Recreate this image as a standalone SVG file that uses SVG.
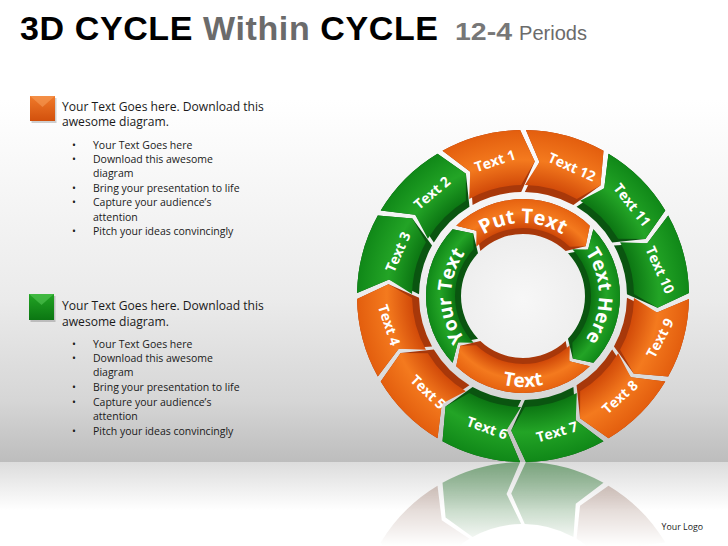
<svg xmlns="http://www.w3.org/2000/svg" width="728" height="546" viewBox="0 0 728 546">
<defs>
<style>
.head{font-family:"Open Sans","Noto Sans",sans-serif;font-size:12.1px;fill:#1a1a1a}
.bul{font-family:"Open Sans","Noto Sans",sans-serif;font-size:10.5px;fill:#1a1a1a}
.lbl{font-family:"Open Sans","Noto Sans",sans-serif;font-weight:bold;font-size:14px;fill:#ffffff;text-anchor:middle}
.big{font-family:"Open Sans","Noto Sans",sans-serif;font-weight:bold;fill:#ffffff;text-anchor:middle}
.ob{fill:#a8380a}
.of{fill:url(#gOF)}
.gb{fill:#0a5510}
.gf{fill:url(#gGF)}
.iob{fill:#a8380a}
.iof{fill:url(#gOI)}
.igb{fill:#0a5510}
.igf{fill:url(#gGI)}
.ro{fill:#a88a7e}
.rg{fill:#4d8a52}
</style>
<linearGradient id="bg" x1="0" y1="100" x2="0" y2="462" gradientUnits="userSpaceOnUse">
<stop offset="0" stop-color="#ffffff"/>
<stop offset="0.55" stop-color="#ebebeb"/>
<stop offset="0.83" stop-color="#d6d6d6"/>
<stop offset="1" stop-color="#bdbdbd"/>
</linearGradient>
<linearGradient id="floor" x1="0" y1="462" x2="0" y2="510" gradientUnits="userSpaceOnUse">
<stop offset="0" stop-color="#dcdcdc"/>
<stop offset="1" stop-color="#ffffff"/>
</linearGradient>
<radialGradient id="gOF" cx="523" cy="296" r="166" gradientUnits="userSpaceOnUse">
<stop offset="0.66" stop-color="#d04808"/>
<stop offset="0.82" stop-color="#f47a1e"/>
<stop offset="1" stop-color="#e35e0e"/>
</radialGradient>
<radialGradient id="gGF" cx="523" cy="296" r="166" gradientUnits="userSpaceOnUse">
<stop offset="0.66" stop-color="#0b7412"/>
<stop offset="0.82" stop-color="#23a426"/>
<stop offset="1" stop-color="#108818"/>
</radialGradient>
<radialGradient id="gOI" cx="523" cy="296" r="97" gradientUnits="userSpaceOnUse">
<stop offset="0.7" stop-color="#d04808"/>
<stop offset="0.86" stop-color="#f47a1e"/>
<stop offset="1" stop-color="#e66210"/>
</radialGradient>
<radialGradient id="gGI" cx="523" cy="296" r="97" gradientUnits="userSpaceOnUse">
<stop offset="0.7" stop-color="#0b7412"/>
<stop offset="0.86" stop-color="#23a426"/>
<stop offset="1" stop-color="#108818"/>
</radialGradient>
<radialGradient id="hole" cx="523" cy="300" r="64" gradientUnits="userSpaceOnUse">
<stop offset="0" stop-color="#f7f7f7"/>
<stop offset="1" stop-color="#eeeeee"/>
</radialGradient>
<linearGradient id="sqO" x1="0" y1="0" x2="0" y2="1">
<stop offset="0" stop-color="#f07a2a"/>
<stop offset="1" stop-color="#d2500c"/>
</linearGradient>
<linearGradient id="sqG" x1="0" y1="0" x2="0" y2="1">
<stop offset="0" stop-color="#22a424"/>
<stop offset="1" stop-color="#0b7612"/>
</linearGradient>
<linearGradient id="rmg" x1="0" y1="462" x2="0" y2="546" gradientUnits="userSpaceOnUse">
<stop offset="0" stop-color="#b0b0b0"/>
<stop offset="1" stop-color="#000000"/>
</linearGradient>
<mask id="rm" maskUnits="userSpaceOnUse" x="0" y="462" width="728" height="84">
<rect x="0" y="462" width="728" height="84" fill="url(#rmg)"/>
</mask>
<path id="oBase" d="M482.84,134.93 A166,166 0 0,1 563.16,134.93 L569.17,169.14 L548.16,195.09 A104,104 0 0,0 497.84,195.09 L504.21,162.31 Z"/>
<path id="oFace" d="M482.84,134.93 A166,166 0 0,1 563.16,134.93 L569.17,169.14 L549.85,188.30 A111,111 0 0,0 496.15,188.30 L504.21,162.31 Z"/>
<path id="iBase" d="M456.23,225.64 A97,97 0 0,1 589.77,225.64 L585.61,246.20 L565.68,251.03 A62,62 0 0,0 480.32,251.03 L476.54,230.87 Z"/>
<path id="iFace" d="M456.23,225.64 A97,97 0 0,1 589.77,225.64 L585.61,246.20 L569.81,246.67 A68,68 0 0,0 476.19,246.67 L476.54,230.87 Z"/>
<path id="tpPut" d="M467.08,249.08 A73,73 0 0,1 578.92,249.08"/>
<path id="tpYour" d="M476.72,351.16 A72,72 0 0,1 476.72,240.84"/>
<path id="tpHere" d="M571.85,237.78 A76,76 0 0,1 571.85,354.22"/>
<path id="tpText" d="M453.29,354.49 A91,91 0 0,0 592.71,354.49"/>
</defs>

<g id="background">
<rect x="0" y="0" width="728" height="546" fill="#ffffff"/>
<rect x="0" y="100" width="728" height="362" fill="url(#bg)"/>
<rect x="0" y="462" width="728" height="48" fill="url(#floor)"/>
<circle cx="523" cy="298" r="64" fill="url(#hole)"/>
</g>

<g id="title">
<text x="20" y="40" font-family="Liberation Sans, Arial, sans-serif" font-weight="bold" font-size="34" textLength="418" lengthAdjust="spacing"><tspan fill="#000000">3D CYCLE </tspan><tspan fill="#6b6b6b">Within </tspan><tspan fill="#000000">CYCLE</tspan></text>
<text x="455" y="40" font-family="Liberation Sans, Arial, sans-serif" font-weight="bold" font-size="23" fill="#777777" textLength="57" lengthAdjust="spacingAndGlyphs">12-4</text>
<text x="519" y="40" font-family="Liberation Sans, Arial, sans-serif" font-size="21" fill="#6b6b6b" textLength="68" lengthAdjust="spacingAndGlyphs">Periods</text>
</g>

<g id="legend-orange">
<rect x="31.5" y="98" width="25" height="25" fill="#000000" opacity="0.18"/>
<rect x="30" y="96" width="25" height="25" fill="url(#sqO)"/>
<path d="M30,96 L55,96 L42.5,107 Z" fill="#f7a15c" opacity="0.55"/>
<text class="head" x="62" y="110.5">Your Text Goes here. Download this</text>
<text class="head" x="62" y="126">awesome diagram.</text>
<text class="bul" x="72" y="148.5">•</text><text class="bul" x="93" y="148.5">Your Text Goes here</text>
<text class="bul" x="72" y="162.5">•</text><text class="bul" x="93" y="162.5">Download this awesome</text>
<text class="bul" x="93" y="176.5">diagram</text>
<text class="bul" x="72" y="191.5">•</text><text class="bul" x="93" y="191.5">Bring your presentation to life</text>
<text class="bul" x="72" y="206">•</text><text class="bul" x="93" y="206">Capture your audience’s</text>
<text class="bul" x="93" y="220.5">attention</text>
<text class="bul" x="72" y="235">•</text><text class="bul" x="93" y="235">Pitch your ideas convincingly</text>
</g>

<g id="legend-green">
<rect x="30.5" y="296" width="25" height="26" fill="#000000" opacity="0.18"/>
<rect x="29" y="294" width="25" height="26" fill="url(#sqG)"/>
<path d="M29,294 L54,294 L41.5,305 Z" fill="#5fd05f" opacity="0.5"/>
<text class="head" x="62" y="310">Your Text Goes here. Download this</text>
<text class="head" x="62" y="325.5">awesome diagram.</text>
<text class="bul" x="72" y="348">•</text><text class="bul" x="93" y="348">Your Text Goes here</text>
<text class="bul" x="72" y="362">•</text><text class="bul" x="93" y="362">Download this awesome</text>
<text class="bul" x="93" y="376">diagram</text>
<text class="bul" x="72" y="391">•</text><text class="bul" x="93" y="391">Bring your presentation to life</text>
<text class="bul" x="72" y="405.5">•</text><text class="bul" x="93" y="405.5">Capture your audience’s</text>
<text class="bul" x="93" y="420">attention</text>
<text class="bul" x="72" y="434.5">•</text><text class="bul" x="93" y="434.5">Pitch your ideas convincingly</text>
</g>

<g id="reflection" mask="url(#rm)">
<g transform="matrix(1 0 0 -1 0 924)">
<use href="#oBase" class="ro" transform="rotate(-105 523 296)"/>
<use href="#oBase" class="ro" transform="rotate(-135 523 296)"/>
<use href="#oBase" class="rg" transform="rotate(-165 523 296)"/>
<use href="#oBase" class="rg" transform="rotate(165 523 296)"/>
<use href="#oBase" class="ro" transform="rotate(135 523 296)"/>
<use href="#oBase" class="ro" transform="rotate(105 523 296)"/>
</g>
</g>

<g id="outer-ring">
<g id="seg-text1"><g transform="rotate(-15 523 296)"><use href="#oBase" class="ob"/><use href="#oFace" class="of"/></g><text class="lbl" transform="translate(495 161) rotate(-18)" dy=".35em">Text 1</text></g>
<g id="seg-text2"><g transform="rotate(-45 523 296)"><use href="#oBase" class="gb"/><use href="#oFace" class="gf"/></g><text class="lbl" transform="translate(432 193) rotate(-40)" dy=".35em">Text 2</text></g>
<g id="seg-text3"><g transform="rotate(-75 523 296)"><use href="#oBase" class="gb"/><use href="#oFace" class="gf"/></g><text class="lbl" transform="translate(398 252) rotate(-66)" dy=".35em">Text 3</text></g>
<g id="seg-text5"><g transform="rotate(-135 523 296)"><use href="#oBase" class="ob"/><use href="#oFace" class="of"/></g><text class="lbl" transform="translate(428 392) rotate(44)" dy=".35em">Text 5</text></g>
<g id="seg-text4"><g transform="rotate(-105 523 296)"><use href="#oBase" class="ob"/><use href="#oFace" class="of"/></g><text class="lbl" transform="translate(389 325) rotate(72)" dy=".35em">Text 4</text></g>
<g id="seg-text6"><g transform="rotate(-165 523 296)"><use href="#oBase" class="gb"/><use href="#oFace" class="gf"/></g><text class="lbl" transform="translate(487 428) rotate(20)" dy=".35em">Text 6</text></g>
<g id="seg-text7"><g transform="rotate(165 523 296)"><use href="#oBase" class="gb"/><use href="#oFace" class="gf"/></g><text class="lbl" transform="translate(557 432) rotate(-16)" dy=".35em">Text 7</text></g>
<g id="seg-text8"><g transform="rotate(135 523 296)"><use href="#oBase" class="ob"/><use href="#oFace" class="of"/></g><text class="lbl" transform="translate(620 397) rotate(-42)" dy=".35em">Text 8</text></g>
<g id="seg-text9"><g transform="rotate(105 523 296)"><use href="#oBase" class="ob"/><use href="#oFace" class="of"/></g><text class="lbl" transform="translate(660 338) rotate(-62)" dy=".35em">Text 9</text></g>
<g id="seg-text10"><g transform="rotate(75 523 296)"><use href="#oBase" class="gb"/><use href="#oFace" class="gf"/></g><text class="lbl" transform="translate(660 270) rotate(66)" dy=".35em">Text 10</text></g>
<g id="seg-text11"><g transform="rotate(45 523 296)"><use href="#oBase" class="gb"/><use href="#oFace" class="gf"/></g><text class="lbl" transform="translate(632 205) rotate(52)" dy=".35em">Text 11</text></g>
<g id="seg-text12"><g transform="rotate(15 523 296)"><use href="#oBase" class="ob"/><use href="#oFace" class="of"/></g><text class="lbl" transform="translate(572 167) rotate(24)" dy=".35em">Text 12</text></g>
</g>

<g id="inner-ring">
<g id="inner-put-text"><use href="#iBase" class="iob"/><use href="#iFace" class="iof"/><text class="big" font-size="20"><textPath href="#tpPut" startOffset="50%">Put Text</textPath></text></g>
<g id="inner-your-text"><g transform="rotate(-90 523 296)"><use href="#iBase" class="igb"/><use href="#iFace" class="igf"/></g><text class="big" font-size="19"><textPath href="#tpYour" startOffset="50%">Your Text</textPath></text></g>
<g id="inner-text"><g transform="rotate(180 523 296)"><use href="#iBase" class="iob"/><use href="#iFace" class="iof"/></g><text class="big" font-size="19"><textPath href="#tpText" startOffset="50%">Text</textPath></text></g>
<g id="inner-text-here"><g transform="rotate(90 523 296)"><use href="#iBase" class="igb"/><use href="#iFace" class="igf"/></g><text class="big" font-size="19"><textPath href="#tpHere" startOffset="50%">Text Here</textPath></text></g>
</g>

<g id="connectors"/>

<g id="logo">
<text x="703" y="529.5" font-family="Open Sans, Noto Sans, sans-serif" font-size="8.8" fill="#1a1a1a" text-anchor="end">Your Logo</text>
</g>
</svg>
